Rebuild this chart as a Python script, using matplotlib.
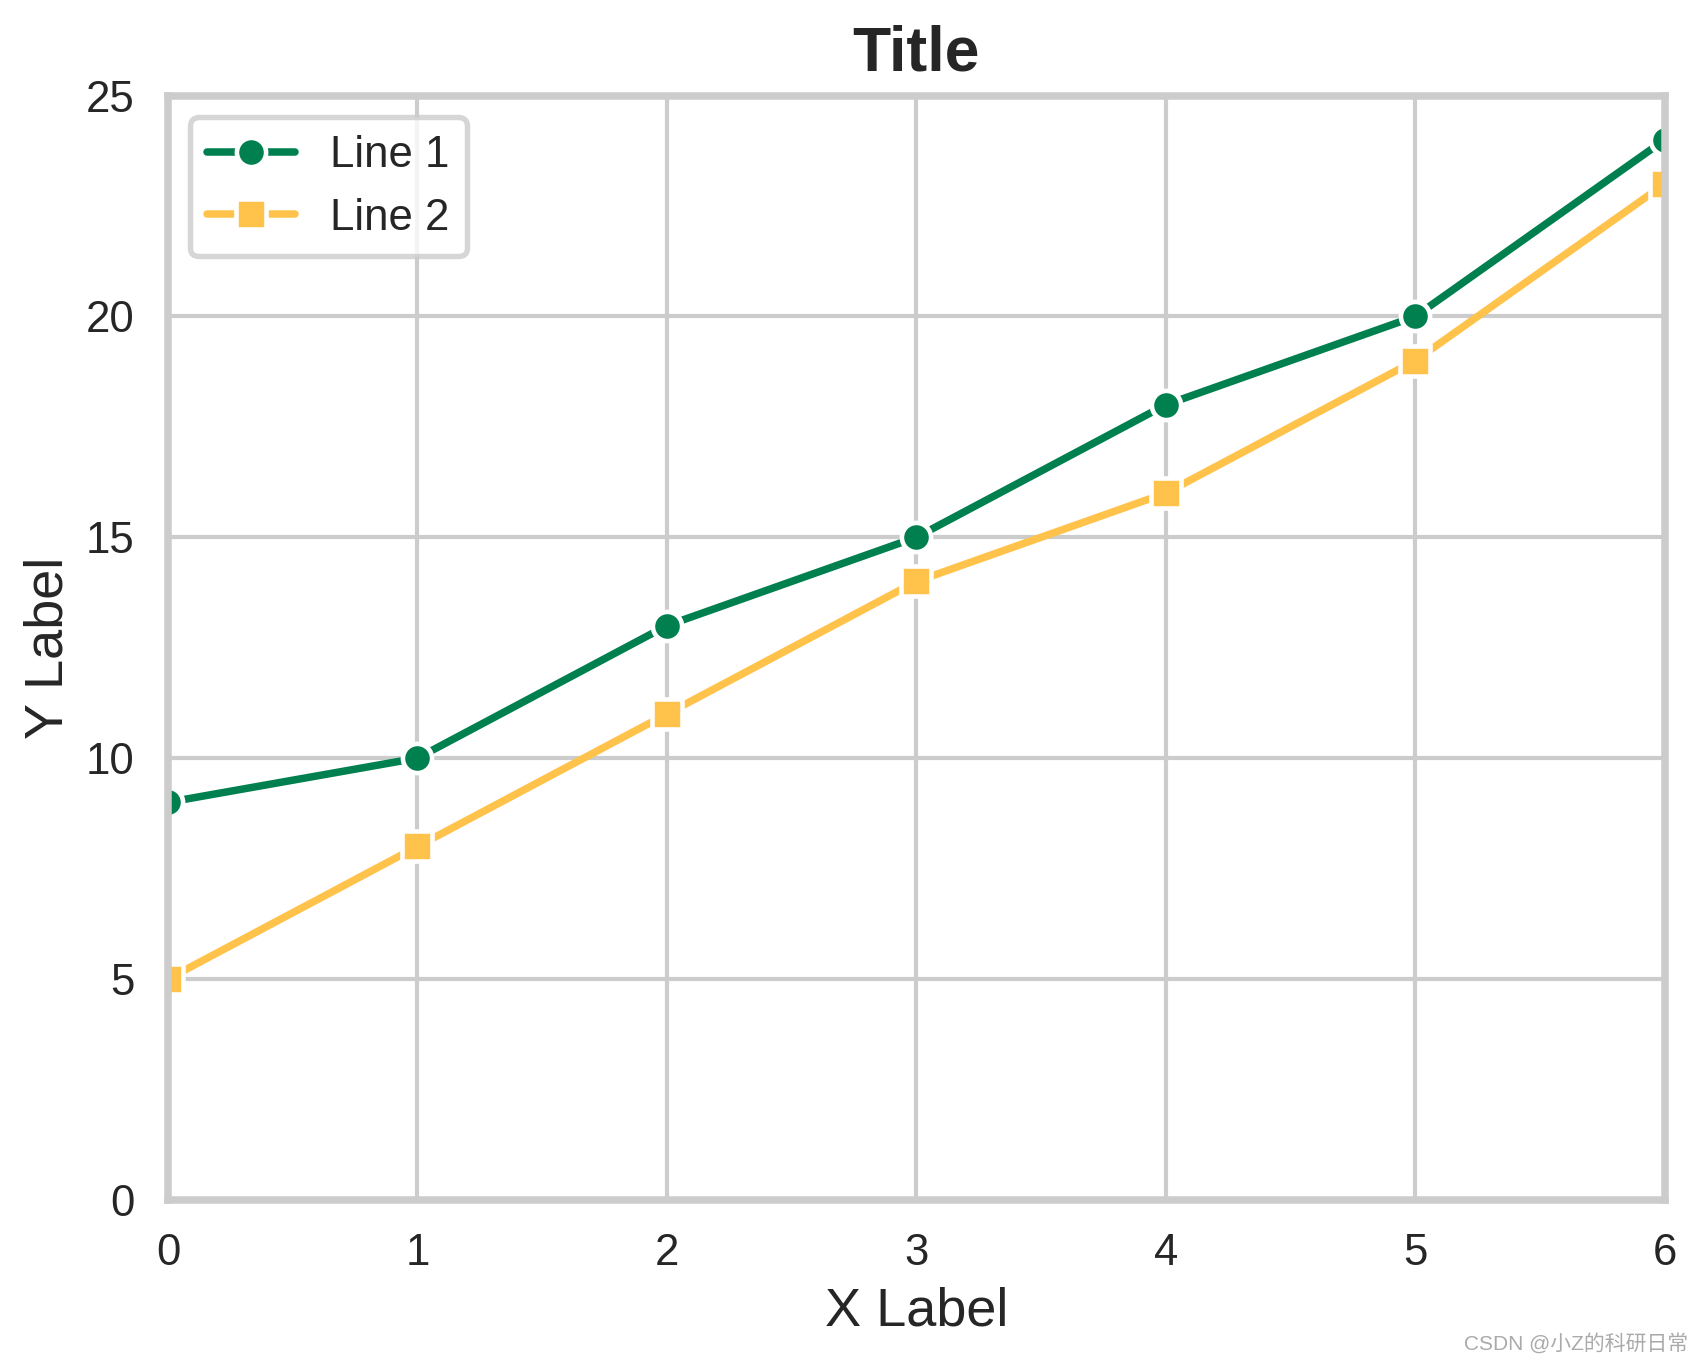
import numpy as np
import matplotlib
matplotlib.use('Agg')
import matplotlib.pyplot as plt
import seaborn as sns

x = [0, 1, 2, 3, 4, 5, 6]
line1 = [9, 10, 13, 15, 18, 20, 24]
line2 = [5, 8, 11, 14, 16, 19, 23]

sns.set_theme(style="whitegrid")
plt.rcParams['font.family'] = ['Liberation Sans', 'Noto Sans CJK SC', 'DejaVu Sans']

fig = plt.figure(figsize=(1697/300, 1365/300), dpi=300)
ax = fig.add_axes([0.099, 0.121, 0.882, 0.809])

ax.plot(x, line1, color='#007F4F', lw=1.8, marker='o', ms=7, mec='white', mew=1.1, label='Line 1')
ax.plot(x, line2, color='#FFC24B', lw=1.8, marker='s', ms=7, mec='white', mew=1.1, label='Line 2')

ax.set_xlim(0, 6)
ax.set_ylim(0, 25)
ax.set_xticks(range(7))
ax.set_yticks(range(0, 26, 5))
ax.tick_params(labelsize=10.5, pad=2)
ax.set_xlabel('X Label', fontsize=13, labelpad=3)
ax.set_ylabel('Y Label', fontsize=13, labelpad=3)
ax.set_title('Title', fontsize=15, fontweight='bold', pad=6)
for s in ax.spines.values():
    s.set_color('#CCCCCC')
    s.set_linewidth(1.8)

leg = ax.legend(loc='upper left', fontsize=10.5, frameon=True)
leg.get_frame().set_edgecolor('#CCCCCC')
leg.get_frame().set_linewidth(1.3)

fig.text(0.995, 0.008, 'CSDN @小Z的科研日常', ha='right', va='bottom', fontsize=5, color='#AAAAAA')

fig.savefig('out.png', dpi=300)
